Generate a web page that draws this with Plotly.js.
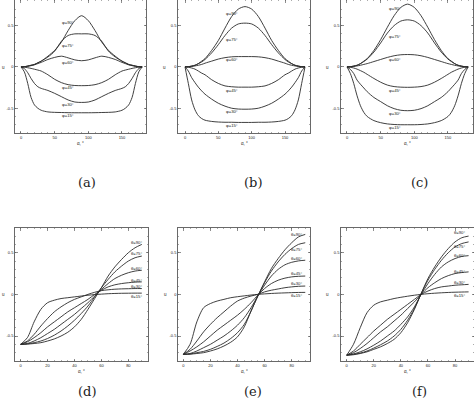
<!DOCTYPE html>
<html>
<head>
<meta charset="utf-8">
<script src="https://cdn.plot.ly/plotly-3.0.1.min.js"></script>
<style>html,body{margin:0;padding:0;background:#fff;}#chart{width:474px;height:399px;}</style>
</head>
<body>
<div id="chart"></div>
<script>
// ---------- data ----------
const alphaTop = [0,5,10,15,20,25,30,40,50,60,70,80,90,100,110,120,130,140,150,155,160,165,170,175,180];
const alphaBottom = [0,5,10,15,20,25,30,35,40,45,50,55,60,65,70,75,80,85,90];

const phiLabels = ['φ=90°','φ=75°','φ=60°','φ=45°','φ=30°','φ=15°'];
const thetaLabels = ['θ=90°','θ=75°','θ=60°','θ=45°','θ=30°','θ=15°'];
const captions = ['(a)','(b)','(c)','(d)','(e)','(f)'];

const xTicksTop = [0,50,100,150];
const xTicksBottom = [0,20,40,60,80];
const yTicks = [-0.5,0,0.5];
const yTickText = ['-0.5','0','0.5'];

// panel (a)
const a90 = [0,0.003,0.01,0.02,0.03,0.05,0.07,0.13,0.2,0.3,0.44,0.56,0.62,0.56,0.44,0.3,0.2,0.13,0.07,0.05,0.03,0.02,0.01,0.003,0];
const a75 = [0,0.003,0.01,0.02,0.03,0.05,0.07,0.12,0.19,0.31,0.38,0.4,0.4,0.4,0.38,0.31,0.19,0.12,0.07,0.05,0.03,0.02,0.01,0.003,0];
const a60 = [0,0.002,0.008,0.015,0.025,0.04,0.055,0.09,0.115,0.13,0.11,0.085,0.075,0.085,0.11,0.13,0.115,0.09,0.055,0.04,0.025,0.015,0.008,0.002,0];
const a45 = [0,-0.003,-0.01,-0.018,-0.028,-0.038,-0.05,-0.095,-0.15,-0.19,-0.215,-0.225,-0.227,-0.225,-0.215,-0.19,-0.15,-0.095,-0.05,-0.038,-0.028,-0.018,-0.01,-0.003,0];
const a30 = [0,-0.02,-0.07,-0.14,-0.2,-0.24,-0.26,-0.285,-0.32,-0.36,-0.4,-0.425,-0.43,-0.425,-0.4,-0.36,-0.32,-0.285,-0.26,-0.24,-0.2,-0.14,-0.07,-0.02,0];
const a15 = [0,-0.06,-0.2,-0.37,-0.46,-0.5,-0.525,-0.545,-0.55,-0.552,-0.554,-0.555,-0.555,-0.555,-0.554,-0.552,-0.55,-0.545,-0.525,-0.5,-0.46,-0.37,-0.2,-0.06,0];
// panel (b)
const b90 = [0,0.003,0.01,0.02,0.04,0.07,0.1,0.2,0.32,0.47,0.61,0.7,0.73,0.7,0.61,0.47,0.32,0.2,0.1,0.07,0.04,0.02,0.01,0.003,0];
const b75 = [0,0.003,0.01,0.02,0.04,0.06,0.09,0.17,0.27,0.38,0.47,0.52,0.53,0.52,0.47,0.38,0.27,0.17,0.09,0.06,0.04,0.02,0.01,0.003,0];
const b60 = [0,0.002,0.006,0.012,0.02,0.03,0.045,0.07,0.095,0.112,0.122,0.125,0.125,0.125,0.122,0.112,0.095,0.07,0.045,0.03,0.02,0.012,0.006,0.002,0];
const b45 = [0,-0.004,-0.013,-0.027,-0.05,-0.075,-0.095,-0.155,-0.2,-0.23,-0.24,-0.245,-0.245,-0.245,-0.24,-0.23,-0.2,-0.155,-0.095,-0.075,-0.05,-0.027,-0.013,-0.004,0];
const b30 = [0,-0.05,-0.13,-0.19,-0.245,-0.29,-0.33,-0.39,-0.44,-0.475,-0.5,-0.51,-0.512,-0.51,-0.5,-0.475,-0.44,-0.39,-0.33,-0.29,-0.245,-0.19,-0.13,-0.05,0];
const b15 = [0,-0.2,-0.4,-0.52,-0.59,-0.625,-0.645,-0.66,-0.667,-0.67,-0.67,-0.672,-0.672,-0.672,-0.67,-0.67,-0.667,-0.66,-0.645,-0.625,-0.59,-0.52,-0.4,-0.2,0];
// panel (c)
const c90 = [0,0.003,0.01,0.02,0.04,0.07,0.1,0.2,0.33,0.48,0.62,0.72,0.76,0.72,0.62,0.48,0.33,0.2,0.1,0.07,0.04,0.02,0.01,0.003,0];
const c75 = [0,0.003,0.01,0.02,0.04,0.065,0.095,0.18,0.29,0.41,0.5,0.555,0.57,0.555,0.5,0.41,0.29,0.18,0.095,0.065,0.04,0.02,0.01,0.003,0];
const c60 = [0,0.002,0.006,0.012,0.02,0.03,0.04,0.065,0.09,0.115,0.135,0.147,0.15,0.147,0.135,0.115,0.09,0.065,0.04,0.03,0.02,0.012,0.006,0.002,0];
const c45 = [0,-0.004,-0.013,-0.027,-0.045,-0.065,-0.09,-0.14,-0.185,-0.22,-0.238,-0.245,-0.247,-0.245,-0.238,-0.22,-0.185,-0.14,-0.09,-0.065,-0.045,-0.027,-0.013,-0.004,0];
const c30 = [0,-0.03,-0.08,-0.16,-0.21,-0.255,-0.3,-0.37,-0.42,-0.47,-0.505,-0.525,-0.53,-0.525,-0.505,-0.47,-0.42,-0.37,-0.3,-0.255,-0.21,-0.16,-0.08,-0.03,0];
const c15 = [0,-0.08,-0.2,-0.35,-0.47,-0.55,-0.6,-0.65,-0.675,-0.69,-0.697,-0.7,-0.7,-0.7,-0.697,-0.69,-0.675,-0.65,-0.6,-0.55,-0.47,-0.35,-0.2,-0.08,0];
// panel (d)
const d90 = [-0.6,-0.597,-0.59,-0.58,-0.56,-0.535,-0.5,-0.455,-0.39,-0.3,-0.18,-0.05,0.08,0.22,0.33,0.42,0.5,0.56,0.6];
const d75 = [-0.6,-0.595,-0.58,-0.56,-0.53,-0.49,-0.44,-0.38,-0.31,-0.23,-0.14,-0.03,0.08,0.18,0.27,0.34,0.4,0.44,0.46];
const d60 = [-0.6,-0.59,-0.56,-0.52,-0.47,-0.42,-0.36,-0.3,-0.24,-0.17,-0.1,-0.02,0.06,0.13,0.19,0.23,0.26,0.28,0.29];
const d45 = [-0.6,-0.57,-0.52,-0.46,-0.39,-0.33,-0.27,-0.21,-0.16,-0.11,-0.06,0,0.05,0.09,0.115,0.13,0.14,0.147,0.15];
const d30 = [-0.6,-0.56,-0.48,-0.38,-0.29,-0.21,-0.15,-0.1,-0.06,-0.03,0,0.025,0.045,0.055,0.062,0.066,0.068,0.07,0.07];
const d15 = [-0.6,-0.52,-0.33,-0.18,-0.1,-0.07,-0.05,-0.04,-0.03,-0.02,-0.01,-0.003,0.003,0.008,0.011,0.013,0.014,0.015,0.015];
// panel (e)
const e90 = [-0.72,-0.718,-0.71,-0.7,-0.68,-0.655,-0.62,-0.575,-0.51,-0.39,-0.2,-0.02,0.15,0.31,0.43,0.535,0.62,0.69,0.72];
const e75 = [-0.72,-0.716,-0.7,-0.685,-0.66,-0.625,-0.585,-0.53,-0.46,-0.36,-0.2,-0.02,0.14,0.28,0.39,0.48,0.55,0.6,0.62];
const e60 = [-0.72,-0.71,-0.68,-0.64,-0.6,-0.55,-0.5,-0.44,-0.37,-0.28,-0.16,-0.02,0.11,0.22,0.3,0.355,0.385,0.402,0.41];
const e45 = [-0.72,-0.68,-0.63,-0.57,-0.5,-0.43,-0.37,-0.31,-0.25,-0.18,-0.1,-0.01,0.07,0.13,0.17,0.195,0.21,0.217,0.22];
const e30 = [-0.72,-0.66,-0.56,-0.45,-0.36,-0.28,-0.21,-0.14,-0.08,-0.045,-0.02,0,0.03,0.05,0.065,0.08,0.09,0.097,0.1];
const e15 = [-0.72,-0.6,-0.33,-0.16,-0.11,-0.08,-0.06,-0.04,-0.028,-0.018,-0.008,0,0.006,0.011,0.015,0.018,0.021,0.023,0.024];
// panel (f)
const f90 = [-0.73,-0.725,-0.71,-0.69,-0.66,-0.63,-0.59,-0.54,-0.46,-0.34,-0.18,0.01,0.19,0.33,0.45,0.55,0.63,0.68,0.7];
const f75 = [-0.73,-0.72,-0.705,-0.68,-0.645,-0.605,-0.56,-0.5,-0.42,-0.31,-0.17,0.01,0.17,0.3,0.41,0.5,0.57,0.61,0.63];
const f60 = [-0.73,-0.715,-0.69,-0.655,-0.61,-0.56,-0.5,-0.44,-0.36,-0.27,-0.15,0,0.13,0.24,0.33,0.39,0.43,0.455,0.465];
const f45 = [-0.73,-0.7,-0.65,-0.59,-0.52,-0.45,-0.39,-0.32,-0.25,-0.17,-0.09,0,0.08,0.14,0.19,0.225,0.25,0.262,0.27];
const f30 = [-0.73,-0.68,-0.6,-0.52,-0.44,-0.37,-0.3,-0.24,-0.18,-0.12,-0.06,0,0.04,0.07,0.09,0.1,0.11,0.115,0.12];
const f15 = [-0.73,-0.6,-0.4,-0.22,-0.13,-0.09,-0.07,-0.05,-0.035,-0.022,-0.01,0,0.008,0.014,0.019,0.023,0.026,0.028,0.03];

// label anchor values (data units)
const labXTop = [70,71,71];
const labXBottom = [86,83.5,83];
const labYa = [0.54,0.26,0.05,-0.255,-0.46,-0.59];
const labYb = [0.65,0.335,0.085,-0.28,-0.54,-0.715];
const labYc = [0.71,0.37,0.093,-0.28,-0.56,-0.73];
const labYd = [0.62,0.49,0.31,0.17,0.09,-0.03];
const labYe = [0.72,0.54,0.43,0.245,0.125,-0.01];
const labYf = [0.74,0.58,0.47,0.28,0.14,-0.01];

// ---------- layout helpers (pixels) ----------
const W = 474, H = 399;
const panels = [
  {xd:[15,146], yd:[0,133], xr:[-8.9,185.7], yr:[-0.8,0.81], xs:alphaTop, ser:[a90,a75,a60,a45,a30,a15], labs:phiLabels, lx:labXTop[0], ly:labYa, top:true, cap:[87,182], ux:3},
  {xd:[178,310], yd:[0,133], xr:[-10.5,187.5], yr:[-0.8,0.81], xs:alphaTop, ser:[b90,b75,b60,b45,b30,b15], labs:phiLabels, lx:labXTop[1], ly:labYb, top:true, cap:[253,182], ux:164},
  {xd:[341,473], yd:[0,133], xr:[-8.9,187.2], yr:[-0.8,0.81], xs:alphaTop, ser:[c90,c75,c60,c45,c30,c15], labs:phiLabels, lx:labXTop[2], ly:labYc, top:true, cap:[419,182], ux:327},
  {xd:[15,148], yd:[228,361], xr:[-4.2,94.6], yr:[-0.8,0.797], xs:alphaBottom, ser:[d90,d75,d60,d45,d30,d15], labs:thetaLabels, lx:labXBottom[0], ly:labYd, top:false, cap:[87,391], ux:3},
  {xd:[178,310], yd:[228,361], xr:[-3.9,93.5], yr:[-0.8,0.797], xs:alphaBottom, ser:[e90,e75,e60,e45,e30,e15], labs:thetaLabels, lx:labXBottom[1], ly:labYe, top:false, cap:[253,391], ux:165},
  {xd:[341,474], yd:[228,361], xr:[-4.2,94.0], yr:[-0.8,0.797], xs:alphaBottom, ser:[f90,f75,f60,f45,f30,f15], labs:thetaLabels, lx:labXBottom[2], ly:labYf, top:false, cap:[419,391], ux:327}
];

const LINE = '#2a2a2a';
const traces = [];
const annotations = [];
const layout = {
  width: W, height: H,
  margin: {l:0, r:0, t:0, b:0, pad:0},
  paper_bgcolor: '#fff', plot_bgcolor: 'rgba(0,0,0,0)',
  showlegend: false,
  font: {family: 'Liberation Sans, Arial, sans-serif', color: '#222'}
};

panels.forEach((p, i) => {
  const n = i === 0 ? '' : String(i + 1);
  const xa = 'x' + n, ya = 'y' + n;
  p.ser.forEach(s => {
    traces.push({x: p.xs, y: s, xaxis: xa, yaxis: ya, type: 'scatter', mode: 'lines',
      line: {color: LINE, width: 0.9, shape: 'spline', smoothing: 0.8}, hoverinfo: 'skip'});
  });
  const axCommon = {
    showline: true, linecolor: '#444', linewidth: 0.8, mirror: 'allticks',
    ticks: 'inside', ticklen: 2.5, tickwidth: 0.6, tickcolor: '#444',
    showgrid: false, zeroline: false, tickfont: {size: 4, color: '#222'},
    fixedrange: true
  };
  layout['xaxis' + n] = Object.assign({}, axCommon, {
    domain: [p.xd[0] / W, p.xd[1] / W], range: p.xr, anchor: ya,
    tickmode: 'array', tickvals: p.top ? xTicksTop : xTicksBottom,
    ticktext: (p.top ? xTicksTop : xTicksBottom).map(String),
    minor: {ticks: 'inside', dtick: p.top ? 10 : 5, tick0: 0, ticklen: 1.3, tickwidth: 0.5, tickcolor: '#555'}
  });
  layout['yaxis' + n] = Object.assign({}, axCommon, {
    domain: [1 - p.yd[1] / H, 1 - p.yd[0] / H], range: p.yr, anchor: xa,
    tickmode: 'array', tickvals: yTicks, ticktext: yTickText,
    minor: {ticks: 'inside', dtick: 0.1, tick0: 0, ticklen: 1.3, tickwidth: 0.5, tickcolor: '#555'}
  });
  // curve labels
  p.labs.forEach((t, k) => {
    annotations.push({x: p.lx, y: p.ly[k], xref: xa, yref: ya, text: t, showarrow: false,
      font: {size: 4.2, color: '#222'}, xanchor: 'center', yanchor: 'middle'});
  });
  // axis titles
  const cx = (p.xd[0] + p.xd[1]) / 2;
  annotations.push({x: cx / W, y: 1 - (p.yd[1] + 10) / H, xref: 'paper', yref: 'paper', text: 'α, °',
    showarrow: false, font: {size: 4.5, color: '#222'}, xanchor: 'center', yanchor: 'middle'});
  const cy = p.top ? 67 : 294;
  annotations.push({x: p.ux / W, y: 1 - cy / H, xref: 'paper', yref: 'paper', text: 'u',
    showarrow: false, font: {size: 4.5, color: '#222'}, xanchor: 'center', yanchor: 'middle'});
  // caption
  annotations.push({x: p.cap[0] / W, y: 1 - p.cap[1] / H, xref: 'paper', yref: 'paper', text: captions[i],
    showarrow: false, font: {size: 13, family: 'DejaVu Serif, Liberation Serif, serif', color: '#222'},
    xanchor: 'center', yanchor: 'middle'});
});
layout.annotations = annotations;

Plotly.newPlot('chart', traces, layout, {staticPlot: true, displayModeBar: false});
</script>
</body>
</html>
